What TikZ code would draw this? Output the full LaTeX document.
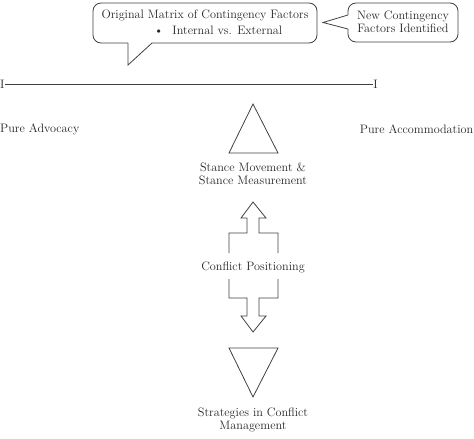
\documentclass[tikz,border=0pt]{standalone}
\usepackage{fontspec}
\begin{document}
\begin{tikzpicture}[x=1pt,y=-1pt,
  txt/.style={inner sep=0pt, text=black!85, font=\fontsize{12.2}{14}\selectfont, align=center},
  ln/.style={draw=black!75, line width=0.8pt, line join=miter}
]
\useasboundingbox (0,0) rectangle (474,439);
% callout 1
\draw[ln, rounded corners=8pt] (128,43) -- (93,43) -- (93,3) -- (317,3) -- (317,43) -- (152,43);
\draw[ln] (152,43) -- (128,65) -- (128,43);
\node[txt] (orig) at (205,15.5) {Original Matrix of Contingency Factors};
\node[txt, anchor=west] (intext) at (154,30) {\textbullet\hspace{9pt}Internal vs. External};
% callout 2
\draw[ln, rounded corners=8pt] (348,15) -- (348,3) -- (458,3) -- (458,42) -- (348,42) -- (348,29);
\draw[ln] (348,15) -- (323,22.5) -- (348,29);
\node[txt] (newc) at (403,22) {New Contingency\\[-1pt]Factors Identified};
% scale line
\node[txt, anchor=west] (lI) at (0,84) {I};
\node[txt, anchor=east] (rI) at (378,84) {I};
\draw[ln] (lI.east) -- (rI.west);
\node[txt, anchor=west] (adv) at (0,129) {Pure Advocacy};
\node[txt, anchor=east] (acc) at (473.5,129) {Pure Accommodation};
% up triangle
\draw[ln] (229,153) -- (253,104) -- (278,153) -- cycle;
\node[txt] (stance) at (253,174) {Stance Movement \&\\[-1pt]Stance Measurement};
% double arrow
\draw[ln] (229,253) -- (229,233) -- (247,233) -- (247,218) -- (241,218) -- (253,202) -- (266,218) -- (259,218) -- (259,233) -- (278,233) -- (278,253);
\node[txt] (conf) at (253,267) {Conflict Positioning};
\draw[ln] (229,279) -- (229,298) -- (247,298) -- (247,316) -- (241,316) -- (253,332) -- (266,316) -- (259,316) -- (259,298) -- (278,298) -- (278,279);
% down triangle
\draw[ln] (229,348) -- (278,348) -- (253,397) -- cycle;
\node[txt] (strat) at (253,420) {Strategies in Conflict\\[-1pt]Management};
\end{tikzpicture}
\end{document}
